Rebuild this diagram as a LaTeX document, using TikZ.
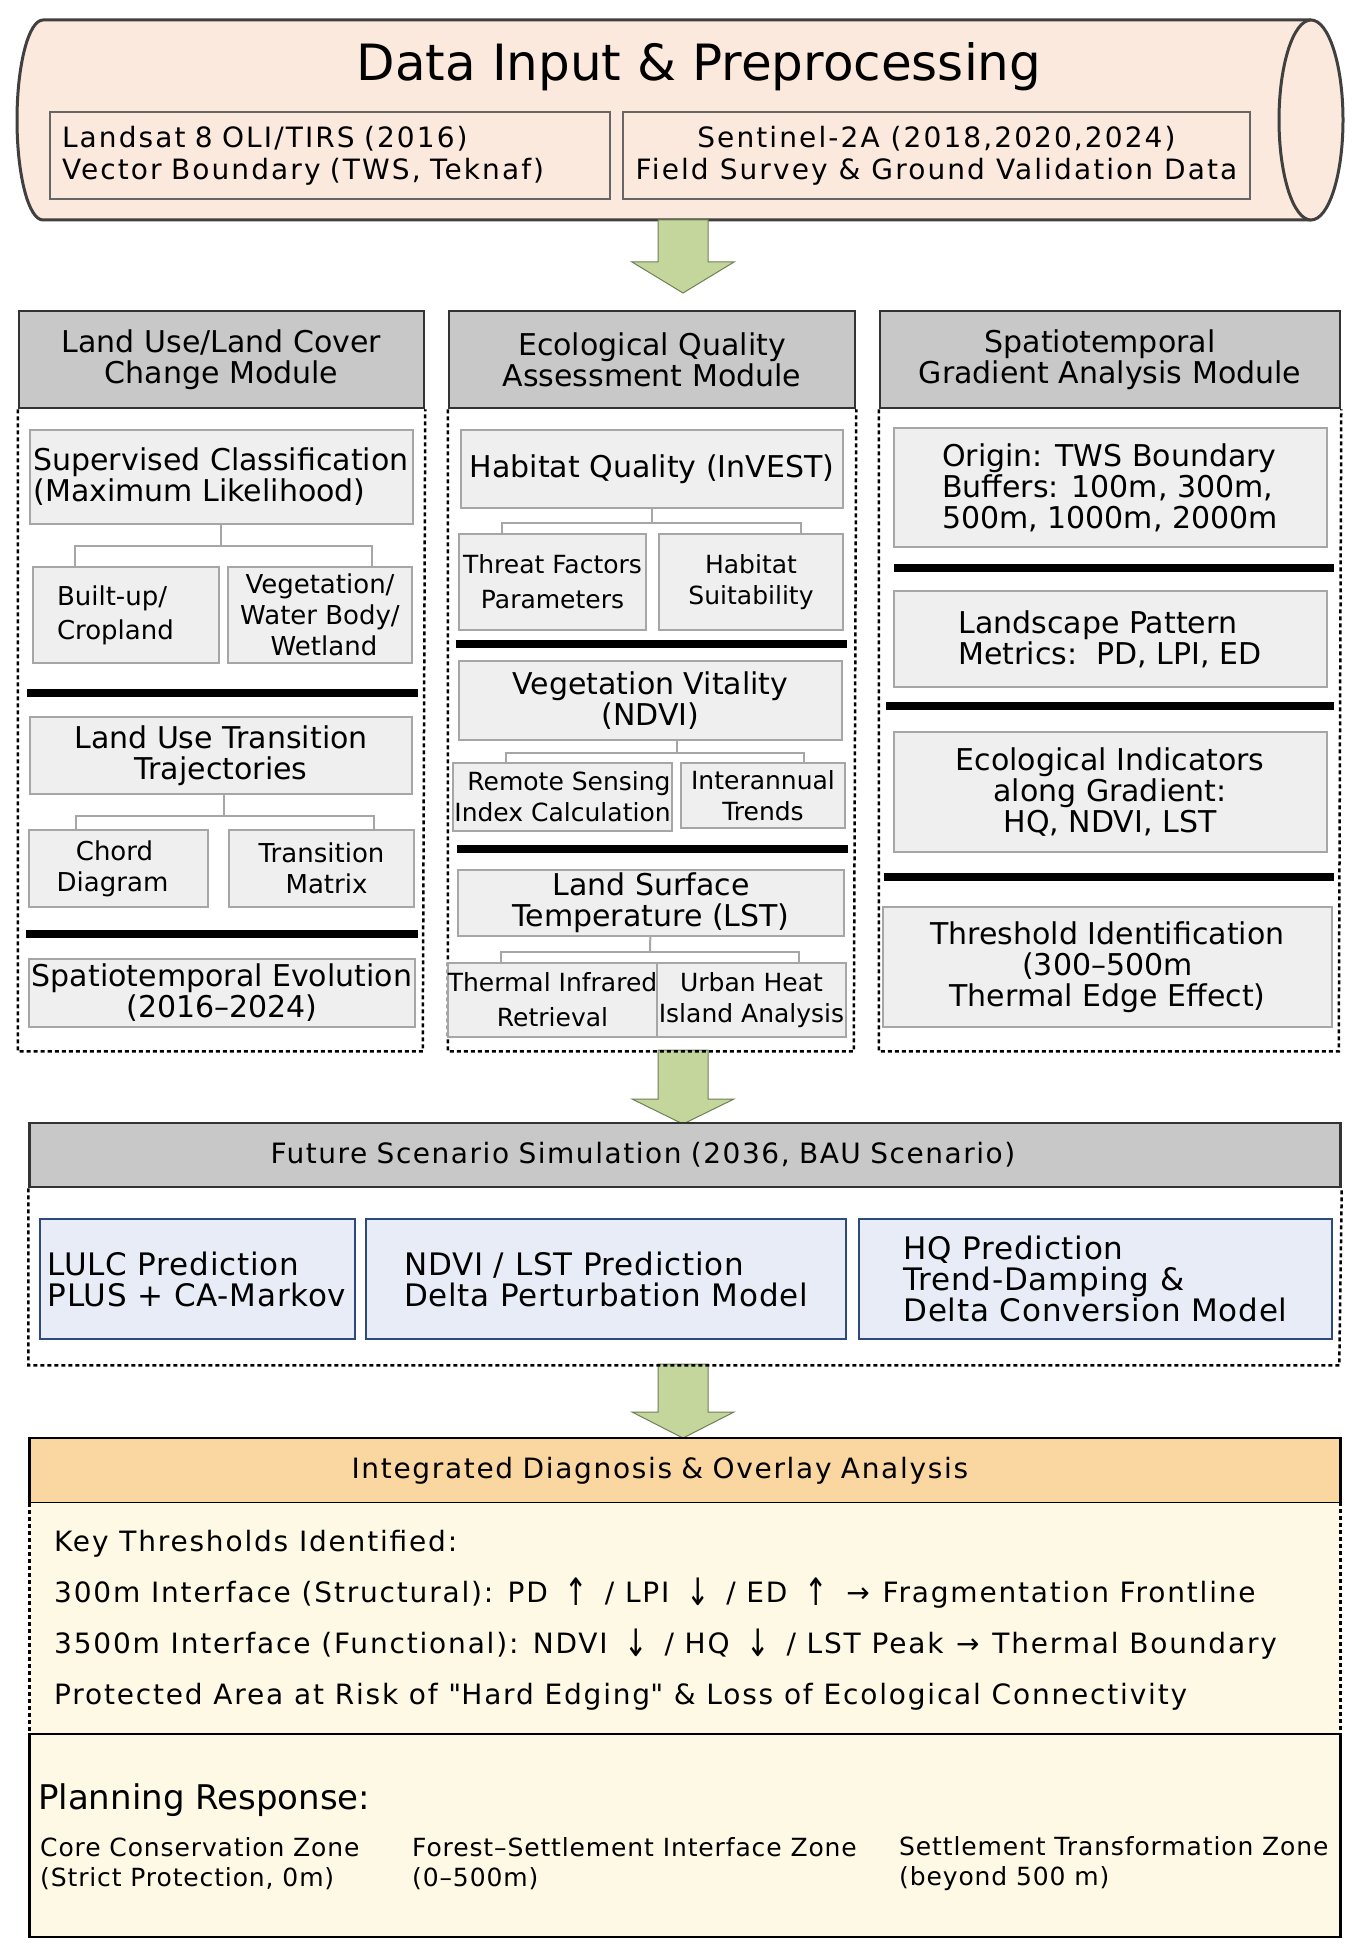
\documentclass[tikz,border=0pt]{standalone}
\usepackage{fontspec}
\setmainfont{DejaVu Sans}
\usepackage{graphicx}
\usepackage{tikz}

\definecolor{peach}{RGB}{250,233,220}
\definecolor{hdrgray}{RGB}{200,200,200}
\definecolor{boxgray}{RGB}{239,239,239}
\definecolor{linegray}{RGB}{166,166,166}
\definecolor{flowgreen}{RGB}{197,214,156}
\definecolor{flowedge}{RGB}{110,128,85}
\definecolor{bluefill}{RGB}{232,236,246}
\definecolor{blueedge}{RGB}{46,74,125}
\definecolor{orangefill}{RGB}{250,215,161}
\definecolor{cream}{RGB}{254,249,228}

\newcommand{\upmark}{\hspace{6pt}\raisebox{-3pt}{\scalebox{1}[1.35]{↑}}\hspace{6pt}}
\newcommand{\downmark}{\hspace{6pt}\raisebox{-3pt}{\scalebox{1}[1.35]{↓}}\hspace{6pt}}
\newcommand{\tomark}{\hspace{2pt}→\hspace{2pt}}

\begin{document}
\begin{tikzpicture}[x=1pt, y=-1pt,
  every node/.style={inner sep=0pt, align=center},
  hdr/.style={draw=black!80, line width=2.5pt, fill=hdrgray, font=\fontsize{30}{31}\selectfont},
  ibox/.style={draw=linegray, line width=2pt, fill=boxgray, font=\fontsize{30}{31}\selectfont},
  sbox/.style={ibox, font=\fontsize{25}{31}\selectfont},
  tree/.style={draw=linegray, line width=2pt},
  bar/.style={line width=8pt},
  frame/.style={line width=2.5pt, dash pattern=on 4pt off 3pt},
  flow/.style={draw=flowedge, line width=1pt, fill=flowgreen},
  pbox/.style={draw=blueedge, line width=2pt, fill=bluefill, minimum height=120, align=left, font=\fontsize{31}{31}\selectfont\addfontfeatures{LetterSpace=2.5}},
  dbox/.style={draw=black!60, line width=1.5pt, minimum height=87, font=\fontsize{28}{32}\selectfont\addfontfeatures{LetterSpace=7.5}},
  zone/.style={anchor=west, align=left, font=\fontsize{25}{30}\selectfont\addfontfeatures{LetterSpace=3.5}}]
\useasboundingbox (0,0) rectangle (1354,1950);

% data input cylinder
\fill[peach] (43,20) -- (1311,20) -- (1311,220) -- (43,220) .. controls (28.6,220) and (17,175.2) .. (17,120) .. controls (17,64.8) and (28.6,20) .. (43,20);
\draw[black!75, line width=3pt] (1311,20) -- (43,20) .. controls (28.6,20) and (17,64.8) .. (17,120) .. controls (17,175.2) and (28.6,220) .. (43,220) -- (1311,220);
\draw[black!75, line width=3pt, fill=peach] (1311,120) ellipse [x radius=32, y radius=100];
\node[font=\fontsize{50}{55}\selectfont] (din) at (699,67) {Data Input \& Preprocessing};
\node[dbox, align=left, text width=536, inner xsep=12] (src1) at (330,155.5) {Landsat 8 OLI/TIRS (2016)\\Vector Boundary (TWS, Teknaf)};
\node[dbox, minimum width=627] (src2) at (936.5,155.5) {Sentinel-2A (2018,2020,2024)\\Field Survey \& Ground Validation Data};

% block arrows
\foreach \ytop/\ybase/\ytip in {220/262/293, 1050/1099/1124, 1364/1412/1438}
  \draw[flow] (658,\ytop) -- (708,\ytop) -- (708,\ybase) -- (734,\ybase) -- (683,\ytip) -- (632,\ybase) -- (658,\ybase) -- cycle;

% module 1
\node[hdr, minimum width=405, minimum height=97] (m1) at (221.5,359.5) {Land Use/Land Cover\\Change Module};
\draw[frame] (m1.south west) -- ++(0,642) -- ++(405,0) -- (m1.south east);
\node[ibox, align=left, minimum width=383, minimum height=94] (sc) at (221,477) {Supervised Classification\\(Maximum Likelihood)};
\node[ibox, align=left, text width=138, inner xsep=24, minimum height=96, font=\fontsize{26}{34}\selectfont] (bu) at (126,615) {Built-up/\\Cropland};
\node[ibox, minimum width=184, minimum height=96, font=\fontsize{26}{31}\selectfont] (vw) at (320,615) {Vegetation/\\Water Body/\\\hspace*{8pt}Wetland};
\coordinate (j1) at (221,546);
\coordinate (j1l) at (75,546);
\coordinate (j1r) at (372,546);
\draw[tree] (sc) -- (j1);
\draw[tree] (bu.north -| j1l) -- (j1l) -- (j1r) -- (vw.north -| j1r);
\draw[bar] (27,693) -- (418,693);
\node[ibox, minimum width=382, minimum height=77] (lut) at (221,755.5) {Land Use Transition\\Trajectories};
\node[ibox, minimum width=179, minimum height=77, font=\fontsize{26}{31}\selectfont] (cd) at (118.5,868.5) {Chord\hspace*{8pt}\\Diagram\hspace*{12pt}};
\node[ibox, minimum width=185, minimum height=77, font=\fontsize{26}{31}\selectfont] (tm) at (321.5,868.5) {Transition\\\hspace*{10pt}Matrix};
\coordinate (j2) at (224,816);
\coordinate (j2l) at (76,816);
\coordinate (j2r) at (374,816);
\draw[tree] (lut.south -| j2) -- (j2);
\draw[tree] (cd.north -| j2l) -- (j2l) -- (j2r) -- (tm.north -| j2r);
\draw[bar] (26,934) -- (418,934);
\node[ibox, minimum width=386, minimum height=68] (se) at (222,993) {Spatiotemporal Evolution\\(2016–2024)};

% module 2
\node[hdr, minimum width=406, minimum height=97] (m2) at (652,359.5) {Ecological Quality\\Assessment Module};
\draw[frame] (m2.south west) -- ++(0,642) -- ++(406,0) -- (m2.south east);
\node[ibox, minimum width=382, minimum height=78] (hq) at (652,469) {Habitat Quality (InVEST)};
\node[sbox, minimum width=187, minimum height=96, font=\fontsize{25}{35}\selectfont] (tf) at (552.5,582) {Threat Factors\\Parameters};
\node[sbox, minimum width=184, minimum height=96] (hs) at (751,582) {Habitat\\Suitability};
\coordinate (j3) at (652,523);
\coordinate (j3l) at (502,523);
\coordinate (j3r) at (801,523);
\draw[tree] (hq) -- (j3);
\draw[tree] (tf.north -| j3l) -- (j3l) -- (j3r) -- (hs.north -| j3r);
\draw[bar] (456,644) -- (847,644);
\node[ibox, minimum width=383, minimum height=79] (vv) at (650.5,700.5) {Vegetation Vitality\\(NDVI)};
\node[sbox, align=right, minimum width=219, minimum height=68] (rs) at (562.5,797) {Remote Sensing\\Index Calculation};
\node[sbox, minimum width=164, minimum height=65] (it) at (763,795.5) {Interannual\\Trends};
\coordinate (j4) at (677,753);
\coordinate (j4l) at (506,753);
\coordinate (j4r) at (804,753);
\draw[tree] (vv.south -| j4) -- (j4);
\draw[tree] (rs.north -| j4l) -- (j4l) -- (j4r) -- (it.north -| j4r);
\draw[bar] (457,849) -- (848,849);
\node[ibox, minimum width=386, minimum height=66] (lst) at (651,903) {Land Surface\\Temperature (LST)};
\node[sbox, minimum width=197, minimum height=74, font=\fontsize{25}{35}\selectfont] (tir) at (552.5,1000) {Thermal Infrared\\Retrieval};
\node[sbox, minimum width=189, minimum height=74] (uhi) at (751.5,1000) {Urban Heat\\Island Analysis};
\coordinate (j5) at (650,952);
\coordinate (j5l) at (501,952);
\coordinate (j5r) at (799,952);
\draw[tree] (lst) -- (j5);
\draw[tree] (tir.north -| j5l) -- (j5l) -- (j5r) -- (uhi.north -| j5r);

% module 3
\node[hdr, minimum width=460, minimum height=97] (m3) at (1110,359.5) {Spatiotemporal\hspace*{20pt}\\Gradient Analysis Module};
\draw[frame] (m3.south west) -- ++(0,642) -- ++(460,0) -- (m3.south east);
\node[ibox, align=left, minimum width=433, minimum height=119] (og) at (1110,487.5) {Origin: TWS Boundary\\Buffers: 100m, 300m,\\500m, 1000m, 2000m};
\draw[bar] (894,568) -- (1334,568);
\node[ibox, align=left, minimum width=433, minimum height=96] (lp) at (1110,639) {Landscape Pattern\\Metrics:\ \ PD, LPI, ED};
\draw[bar] (886,706) -- (1334,706);
\node[ibox, minimum width=433, minimum height=120] (ei) at (1110,792) {Ecological Indicators\\along Gradient:\\HQ, NDVI, LST};
\draw[bar] (884,877) -- (1334,877);
\node[ibox, minimum width=449, minimum height=120] (th) at (1107.5,967) {Threshold Identification\\(300–500m\\Thermal Edge Effect)};

% future scenario
\node[hdr, align=left, text width=829, inner xsep=241, minimum height=64, font=\fontsize{28}{30}\selectfont\addfontfeatures{LetterSpace=5.5}] (fs) at (685,1155) {Future Scenario Simulation (2036, BAU Scenario)};
\draw[frame] (fs.south west) -- ++(0,177) -- ++(1311,0) -- (fs.south east);
\node[pbox, minimum width=315] (lulc) at (197,1279) {LULC Prediction\\PLUS + CA-Markov};
\node[pbox, minimum width=480] (ndvi) at (606,1279) {NDVI / LST Prediction\\Delta Perturbation Model};
\node[pbox, minimum width=473] (hqp) at (1095.5,1279) {HQ Prediction\\Trend-Damping \&\\Delta Conversion Model};

% integrated diagnosis
\node[draw=black, line width=2.5pt, fill=orangefill, align=left, text width=667, inner xsep=322, minimum height=65, font=\fontsize{28}{30}\selectfont\addfontfeatures{LetterSpace=6}] (ida) at (685,1470.5) {Integrated Diagnosis \& Overlay Analysis};
\node[fill=cream, minimum width=1311, minimum height=231] (diag) at (685,1618.5) {};
\draw[frame] (diag.north west) -- (diag.south west) -- (diag.south east) -- (diag.north east);
\node[anchor=west, align=left, font=\fontsize{28}{51}\selectfont\addfontfeatures{LetterSpace=6.5}] (keys) at (54,1620) {Key Thresholds Identified:\\300m Interface (Structural): PD \upmark{} / LPI \downmark{} / ED \upmark{} \tomark{} Fragmentation Frontline\\3500m Interface (Functional): NDVI \downmark{} / HQ \downmark{} / LST Peak \tomark{} Thermal Boundary\\Protected Area at Risk of \textquotedbl Hard Edging\textquotedbl{} \& Loss of Ecological Connectivity};

% planning response
\node[draw=black, line width=2.5pt, fill=cream, minimum width=1311, minimum height=203] (plan) at (685,1835.5) {};
\node[anchor=west, font=\fontsize{34}{36}\selectfont] (pr) at (38,1800) {Planning Response:};
\node[zone] (z1) at (40,1864) {Core Conservation Zone\\(Strict Protection, 0m)};
\node[zone] (z2) at (412,1864) {Forest–Settlement Interface Zone\\(0–500m)};
\node[zone] (z3) at (899,1864) {Settlement Transformation Zone\\(beyond 500 m)};
\end{tikzpicture}
\end{document}
